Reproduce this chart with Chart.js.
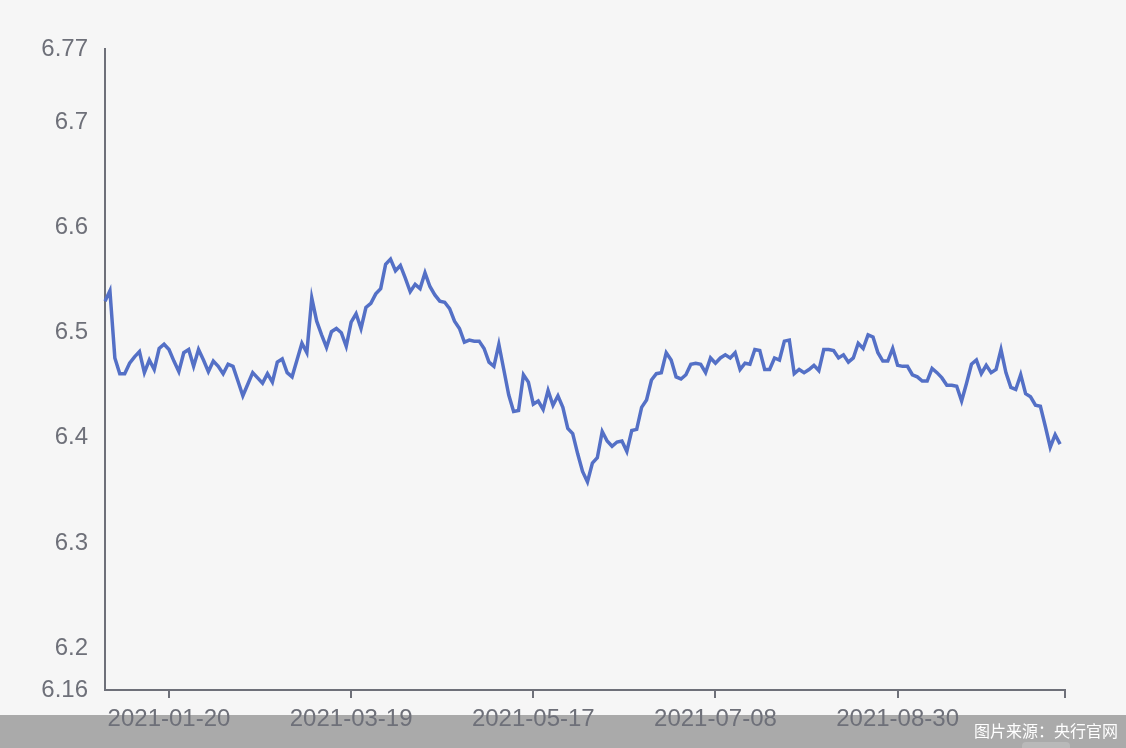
<!DOCTYPE html>
<html>
<head>
<meta charset="utf-8">
<script src="https://cdn.jsdelivr.net/npm/chart.js@4.4.1/dist/chart.umd.min.js"></script>
<style>
  html, body { margin: 0; padding: 0; background: #f6f6f6; }
  #wrap { width: 1126px; height: 748px; }
</style>
</head>
<body>
<div id="wrap"><canvas id="rateChart" width="1126" height="748"></canvas></div>
<script>
// 人民币汇率中间价（美元/人民币），2020-12-31 起的交易日
const startDate = '2020-12-31';
const holidays = ['2021-01-01', '2021-02-11', '2021-02-12', '2021-02-15', '2021-02-16', '2021-02-17',
  '2021-04-05', '2021-05-03', '2021-05-04', '2021-05-05', '2021-06-14', '2021-09-20', '2021-09-21',
  '2021-10-01', '2021-10-04', '2021-10-05', '2021-10-06', '2021-10-07'];
const dayCount = 196;

const rates = [
  6.530, 6.540, 6.476, 6.461, 6.461, 6.471, 6.477, 6.482, 6.462, 6.474,
  6.465, 6.485, 6.489, 6.484, 6.473, 6.463, 6.481, 6.484, 6.468, 6.484,
  6.474, 6.463, 6.473, 6.468, 6.461, 6.470, 6.468, 6.454, 6.440, 6.451,
  6.462, 6.457, 6.452, 6.461, 6.453, 6.472, 6.475, 6.462, 6.458, 6.474,
  6.490, 6.481, 6.533, 6.511, 6.498, 6.486, 6.501, 6.504, 6.500, 6.487,
  6.510, 6.518, 6.504, 6.524, 6.528, 6.537, 6.542, 6.565, 6.570, 6.559,
  6.564, 6.552, 6.539, 6.546, 6.542, 6.557, 6.544, 6.536, 6.530, 6.529,
  6.523, 6.511, 6.504, 6.491, 6.493, 6.492, 6.492, 6.485, 6.472, 6.468,
  6.489, 6.465, 6.441, 6.425, 6.426, 6.460, 6.453, 6.432, 6.435, 6.427,
  6.445, 6.431, 6.440, 6.429, 6.409, 6.404, 6.385, 6.368, 6.358, 6.376,
  6.381, 6.406, 6.397, 6.392, 6.396, 6.397, 6.387, 6.407, 6.408, 6.429,
  6.436, 6.455, 6.461, 6.462, 6.481, 6.474, 6.458, 6.456, 6.460, 6.470,
  6.471, 6.470, 6.462, 6.476, 6.471, 6.476, 6.479, 6.476, 6.481, 6.465,
  6.471, 6.470, 6.484, 6.483, 6.465, 6.465, 6.476, 6.474, 6.492, 6.493,
  6.461, 6.465, 6.462, 6.465, 6.469, 6.464, 6.484, 6.484, 6.483, 6.476,
  6.479, 6.472, 6.476, 6.490, 6.485, 6.498, 6.496, 6.481, 6.473, 6.473,
  6.485, 6.469, 6.468, 6.468, 6.460, 6.458, 6.454, 6.454, 6.466, 6.462,
  6.457, 6.450, 6.450, 6.449, 6.435, 6.452, 6.470, 6.474, 6.461, 6.469,
  6.462, 6.465, 6.484, 6.462, 6.448, 6.446, 6.460, 6.442, 6.439, 6.431,
  6.430, 6.411, 6.391, 6.403, 6.394
];

const shownDates = ['2021-01-20', '2021-03-19', '2021-05-17', '2021-07-08', '2021-08-30'];
const yTicks = [6.16, 6.2, 6.3, 6.4, 6.5, 6.6, 6.7, 6.77];
const sourceText = '图片来源：央行官网';

// build the trading-day category list
const dates = [];
const d = new Date(startDate + 'T00:00:00Z');
while (dates.length < dayCount) {
  const s = d.toISOString().slice(0, 10);
  const wd = d.getUTCDay();
  if (wd !== 0 && wd !== 6 && !holidays.includes(s)) dates.push(s);
  d.setUTCDate(d.getUTCDate() + 1);
}
const lastIndex = dates.length - 1;

const axisColor = '#6e7079';
const font = { family: '"Liberation Sans", Arial, sans-serif', size: 24 };

const backdrop = {
  id: 'backdrop',
  beforeDraw(chart) {
    const c = chart.ctx;
    c.save();
    c.fillStyle = '#f6f6f6';
    c.fillRect(0, 0, chart.width, chart.height);
    c.fillStyle = '#aaaaaa';
    c.fillRect(0, 715, chart.width, chart.height - 715);
    c.fillStyle = '#b9b9b9';
    c.beginPath();
    c.roundRect(1022, 742, 48, 12, 4);
    c.fill();
    c.restore();
  },
  afterDraw(chart) {
    const c = chart.ctx;
    c.save();
    c.fillStyle = '#ffffff';
    c.font = '16px "Noto Sans CJK SC", sans-serif';
    c.textAlign = 'right';
    c.textBaseline = 'middle';
    c.fillText(sourceText, 1118, 731);
    c.restore();
  }
};

new Chart(document.getElementById('rateChart').getContext('2d'), {
  type: 'line',
  data: {
    labels: dates,
    datasets: [{
      data: rates,
      borderColor: '#5470c6',
      borderWidth: 3.5,
      pointRadius: 0,
      tension: 0,
      fill: false
    }]
  },
  options: {
    responsive: false,
    animation: false,
    layout: { padding: { top: 49, right: 61, left: 0, bottom: 0 } },
    plugins: { legend: { display: false }, tooltip: { enabled: false } },
    scales: {
      x: {
        type: 'category',
        offset: false,
        afterFit(scale) { scale.height = 58; },
        border: { display: true, color: axisColor, width: 2 },
        grid: {
          display: true,
          drawOnChartArea: false,
          drawTicks: true,
          tickLength: 8,
          lineWidth: 2,
          color: (ctx) => (shownDates.includes(dates[ctx.index]) || ctx.index === lastIndex) ? axisColor : 'rgba(0,0,0,0)'
        },
        ticks: {
          autoSkip: false,
          maxRotation: 0,
          padding: 7,
          color: axisColor,
          font: font,
          callback: (v, i) => shownDates.includes(dates[i]) ? dates[i] : ''
        }
      },
      y: {
        type: 'linear',
        min: 6.16,
        max: 6.77,
        afterFit(scale) { scale.width = 105; },
        afterBuildTicks(scale) { scale.ticks = yTicks.map(v => ({ value: v })); },
        border: { display: true, color: axisColor, width: 2 },
        grid: { display: false },
        ticks: {
          padding: 9,
          color: axisColor,
          font: font,
          callback: (v) => String(+v.toFixed(2))
        }
      }
    }
  },
  plugins: [backdrop]
});
</script>
</body>
</html>
